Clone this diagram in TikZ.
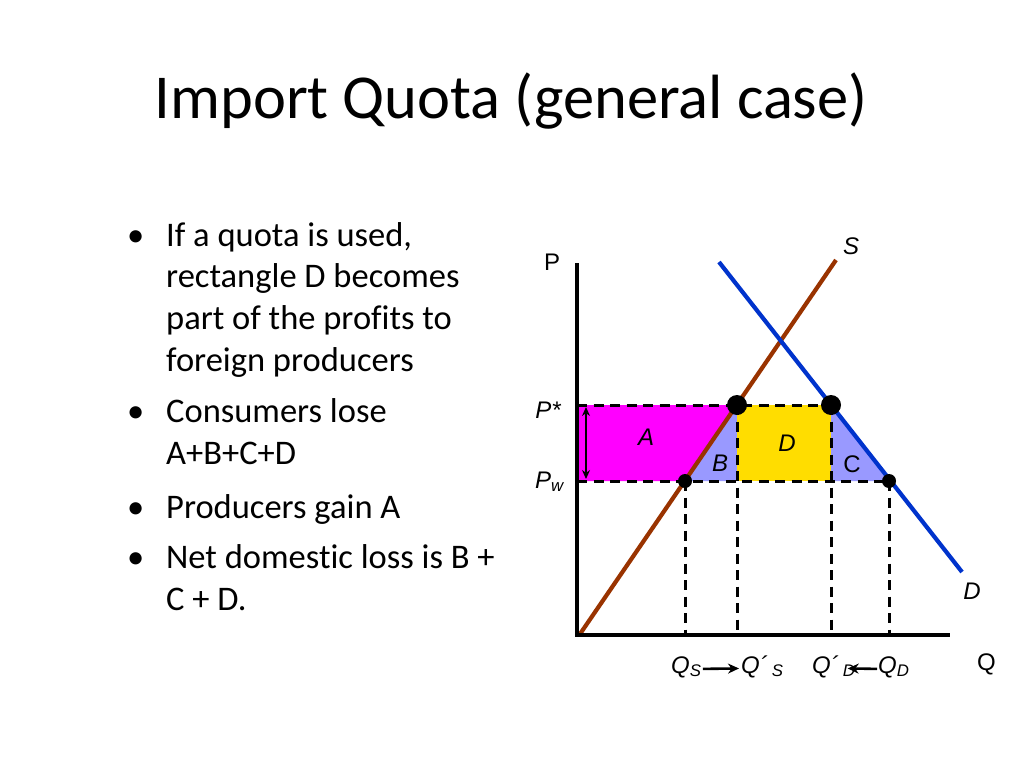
\documentclass[tikz,border=0pt]{standalone}
\usepackage{fontspec}
\setmainfont{Carlito}[Ligatures={NoCommon}]
\newfontfamily\arial{Liberation Sans}
\usetikzlibrary{arrows.meta}
\definecolor{supplyc}{RGB}{153,51,0}
\definecolor{demandc}{RGB}{0,51,204}
\definecolor{magc}{RGB}{255,0,255}
\definecolor{lavc}{RGB}{153,153,255}
\definecolor{yelc}{RGB}{255,221,0}
\begin{document}
\begin{tikzpicture}[x=1pt,y=-1pt,
  title/.style={inner sep=0pt,font=\fontsize{62.5}{70}\selectfont},
  bl/.style={anchor=base west,inner sep=0pt,font=\fontsize{34.5}{40}\selectfont},
  lab/.style={inner sep=0pt,font=\arial\fontsize{24}{28}\selectfont},
  ilab/.style={lab,font=\arial\itshape\fontsize{24}{28}\selectfont},
  qlab/.style={anchor=base west,inner sep=0pt,font=\arial\itshape\fontsize{24}{28}\selectfont},
  guide/.style={line width=3pt,dash pattern=on 10pt off 6.5pt},
  axis/.style={line width=3.2pt},
  curve/.style={line width=4.2pt},
  bigdot/.style={circle,fill=black,minimum size=20pt,inner sep=0pt},
  smalldot/.style={circle,fill=black,minimum size=14pt,inner sep=0pt},
  qarrow/.style={line width=2.6pt,-{Stealth[length=11pt,width=10pt]}}]
\useasboundingbox (0,0) rectangle (1024,768);

% title
\node[title,anchor=base] (t) at (511,118) {Import Quota (general case)};

% bullets
\node[bl] (b1a) at (127,246) {•};
\node[bl] (l1) at (166,246) {If a quota is used,};
\node[bl] (l2) at (166,287) {rectangle D becomes};
\node[bl] (l3) at (166,329) {part of the profits to};
\node[bl] (l4) at (166,371) {foreign producers};
\node[bl] (b2a) at (127,422) {•};
\node[bl] (l5) at (166,422) {Consumers lose};
\node[bl] (l6) at (166,464) {A+B+C+D};
\node[bl] (b3a) at (127,518) {•};
\node[bl] (l7) at (166,518) {Producers gain A};
\node[bl] (b4a) at (127,568) {•};
\node[bl] (l8) at (166,568) {Net domestic loss is B +};
\node[bl] (l9) at (166,610) {C + D.};

% key coordinates
\coordinate (O) at (577,635);
\coordinate (ytop) at (577,263);
\coordinate (xend) at (950,635);
\coordinate (S0) at (580,634);
\coordinate (S1) at (836,260);
\coordinate (D0) at (719,262);
\coordinate (D1) at (962,572);
\coordinate (sw) at (685,481);
\coordinate (ss) at (737,405);
\coordinate (dd) at (831,405);
\coordinate (dw) at (889,481);

% areas
\fill[magc] (579,405) -- (ss) -- (sw) -- (579,481) -- cycle;
\fill[lavc] (ss) -- (737,481) -- (sw) -- cycle;
\fill[yelc] (ss) rectangle (831,481);
\fill[lavc] (dd) -- (890.7,481) -- (831,481) -- cycle;

% dashed guides
\draw[guide] (577,405) -- (dd);
\draw[guide] (577,481) -- (dw);
\draw[guide] (sw) -- (685,635);
\draw[guide] (ss) -- (737,635);
\draw[guide] (dd) -- (831,635);
\draw[guide] (dw) -- (889,635);

% double arrow
\draw[line width=1.4pt,{Stealth[length=9pt,width=8pt]}-{Stealth[length=9pt,width=8pt]}] (586,407) -- (586,479);

% curves
\draw[curve,supplyc] (S0) -- (S1);
\draw[curve,demandc] (D0) -- (D1);

% axes
\draw[axis] (ytop) -- (O) -- (xend);

% dots
\node[bigdot] (e1) at (ss) {};
\node[bigdot] (e2) at (dd) {};
\node[smalldot] (e3) at (sw) {};
\node[smalldot] (e4) at (dw) {};

% labels
\node[lab] (P) at (552,262) {P};
\node[ilab] (Slab) at (851,246) {S};
\node[ilab] (Dlab) at (972,591) {D};
\node[ilab] (Pstar) at (548,410) {P*};
\node[ilab,anchor=base west] (Pw) at (535,488) {P\textsubscript{w}};
\node[ilab] (A) at (646,437) {A};
\node[ilab] (B) at (720,463) {B};
\node[ilab] (Dl) at (787,443) {D};
\node[lab] (C) at (852,464) {C};

\node[qlab] (qs) at (671,673) {Q\textsubscript{S}};
\node[qlab] (qs2) at (741,673) {Q´\,\textsubscript{S}};
\node[qlab] (qd2) at (812,673) {Q´\,\textsubscript{D}};
\node[qlab] (qd) at (878,673) {Q\textsubscript{D}};
\node[lab,anchor=base west] (Q) at (977,670) {Q};

\draw[qarrow] ([xshift=1pt,yshift=-2pt]qs.east) -- ([xshift=-2pt,yshift=-2pt]qs2.west);
\draw[qarrow] ([xshift=-1pt,yshift=-2pt]qd.west) -- ([xshift=-8pt,yshift=-2pt]qd2.east);
\end{tikzpicture}
\end{document}
